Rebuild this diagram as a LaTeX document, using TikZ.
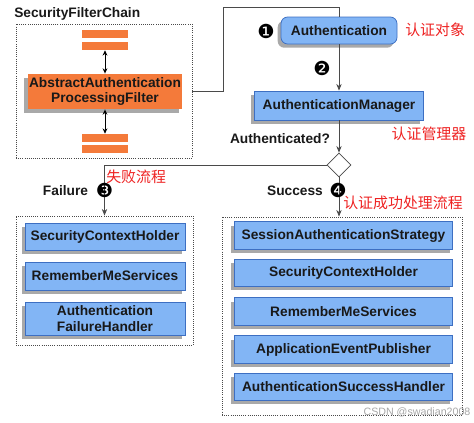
\documentclass[tikz,border=0pt]{standalone}
\usepackage{fontspec}
\setmainfont{Liberation Sans}
\newfontfamily\cjk{Noto Sans CJK SC}
\newfontfamily\dings{DejaVu Sans}
\usetikzlibrary{arrows.meta, shapes.geometric, shadows}
\definecolor{boxBlue}{HTML}{3D6FC2}
\definecolor{boxFill}{HTML}{82B5F5}
\definecolor{filterOrange}{HTML}{F47A3A}
\definecolor{lineGray}{HTML}{4A4A4A}
\definecolor{noteRed}{HTML}{EE2222}
\definecolor{shadeGray}{HTML}{A9A9A9}

\begin{document}
\begin{tikzpicture}[
    x=0.75pt, y=-0.75pt,
    blk/.style={rectangle, draw=boxBlue, fill=boxFill, line width=0.6pt,
                font=\bfseries\fontsize{10.3}{12}\selectfont, text=black!90,
                align=center, inner sep=1pt, minimum width=#1,
                drop shadow={shadow xshift=-2.5pt, shadow yshift=-2.8pt,
                             fill=shadeGray, opacity=1}},
    blk/.default=164pt,
    bar/.style={rectangle, fill=filterOrange, minimum width=34.5pt,
                minimum height=6pt, inner sep=0pt},
    frame/.style={rectangle, draw=lineGray, densely dotted, line width=0.6pt,
                  inner sep=0pt},
    link/.style={draw=lineGray, line width=0.6pt},
    tip/.style={link, -{Stealth[length=5pt, width=4pt]}},
    dbl/.style={draw=black, line width=0.7pt,
                {Stealth[length=4pt, width=3.6pt]}-{Stealth[length=4pt, width=3.6pt]}},
    lbl/.style={font=\bfseries\fontsize{10.3}{12}\selectfont, text=black!90, inner sep=0pt},
    zh/.style={font=\cjk\fontsize{11.2}{13}\selectfont, text=noteRed, inner sep=0pt},
    num/.style={font=\dings\fontsize{14.5}{14.5}\selectfont, inner sep=0pt},
  ]
    \useasboundingbox (0,0) rectangle (474,422);

    % filter chain
    \node[frame, minimum width=132pt, minimum height=100.5pt] (chain) at (104,91) {};
    \node[lbl, anchor=west] (chainttl) at (14,14) {SecurityFilterChain};
    \node[bar] (bar1) at (105,34) {};
    \node[bar] (bar2) at (105,46) {};
    \node[blk=115.5pt, fill=filterOrange, draw=none, minimum height=26.25pt,
          font=\bfseries\fontsize{10.3}{11.5}\selectfont] (filter) at (105,91.5)
          {AbstractAuthentication\\ProcessingFilter};
    \node[bar] (bar3) at (105,138) {};
    \node[bar] (bar4) at (105,149) {};
    \draw[dbl] (bar2.south) -- (filter.north);
    \draw[dbl] (filter.south) -- (bar3.north);

    % authentication
    \node[blk=87pt, rounded corners=5pt, minimum height=20.25pt] (auth) at (339,30.5) {Authentication};
    \node[zh, anchor=west] (authzh) at (405,30) {认证对象};
    \node[num] (n1) at (266,31) {❶};
    \node[blk=126.75pt, minimum height=21.75pt] (mgr) at (339,105.5) {AuthenticationManager};
    \node[zh] (mgrzh) at (429,134) {认证管理器};
    \node[num] (n2) at (322,68) {❷};
    \node[lbl] (askd) at (280,139) {Authenticated?};
    \node[diamond, draw=lineGray, fill=white, line width=0.5pt, inner sep=0pt,
          minimum width=18pt, minimum height=18pt] (dec) at (339,165) {};

    \coordinate (up) at (223,7);
    \draw[link] (filter -| chain.east) -| (up) -| (auth.north);
    \draw[tip] (auth.south) -- (mgr.north);
    \draw[tip] (mgr.south) -- (dec.north);

    % failure
    \node[frame, minimum width=132.75pt, minimum height=96.75pt] (failbox) at (104.5,280.5) {};
    \draw[tip] (dec.west) -| (failbox.north);
    \node[lbl] (fail) at (65.5,191) {Failure};
    \node[num] (n3) at (104.5,190) {❸};
    \node[zh, anchor=west] (failzh) at (106,177) {失败流程};
    \node[blk=120pt, minimum height=20.25pt] (f1) at (105,236.5) {SecurityContextHolder};
    \node[blk=120pt, minimum height=21pt] (f2) at (105,276) {RememberMeServices};
    \node[blk=120pt, minimum height=24.75pt, font=\bfseries\fontsize{10.3}{11.5}\selectfont]
          (f3) at (105,318.5) {Authentication\\FailureHandler};

    % success
    \node[frame, minimum width=180pt, minimum height=148.5pt] (okbox) at (342,316) {};
    \draw[tip] (dec.south) -- (dec.south |- okbox.north);
    \node[lbl] (succ) at (295,191) {Success};
    \node[num] (n4) at (338,190) {❹};
    \node[zh, anchor=west] (okzh) at (343,203) {认证成功处理流程};
    \node[blk, minimum height=20.6pt] (s1) at (343.5,235.5) {SessionAuthenticationStrategy};
    \node[blk, minimum height=20.6pt] (s2) at (343.5,273) {SecurityContextHolder};
    \node[blk, minimum height=20.6pt] (s3) at (343.5,311.5) {RememberMeServices};
    \node[blk, minimum height=20.6pt] (s4) at (343.5,349.5) {ApplicationEventPublisher};
    \node[blk, minimum height=20.6pt] (s5) at (343.5,387) {AuthenticationSuccessHandler};

    \node[font=\fontsize{8}{9}\selectfont, text=black!35, inner sep=0pt] (mark) at (417,412) {CSDN @swadian2008};
  \end{tikzpicture}
\end{document}
